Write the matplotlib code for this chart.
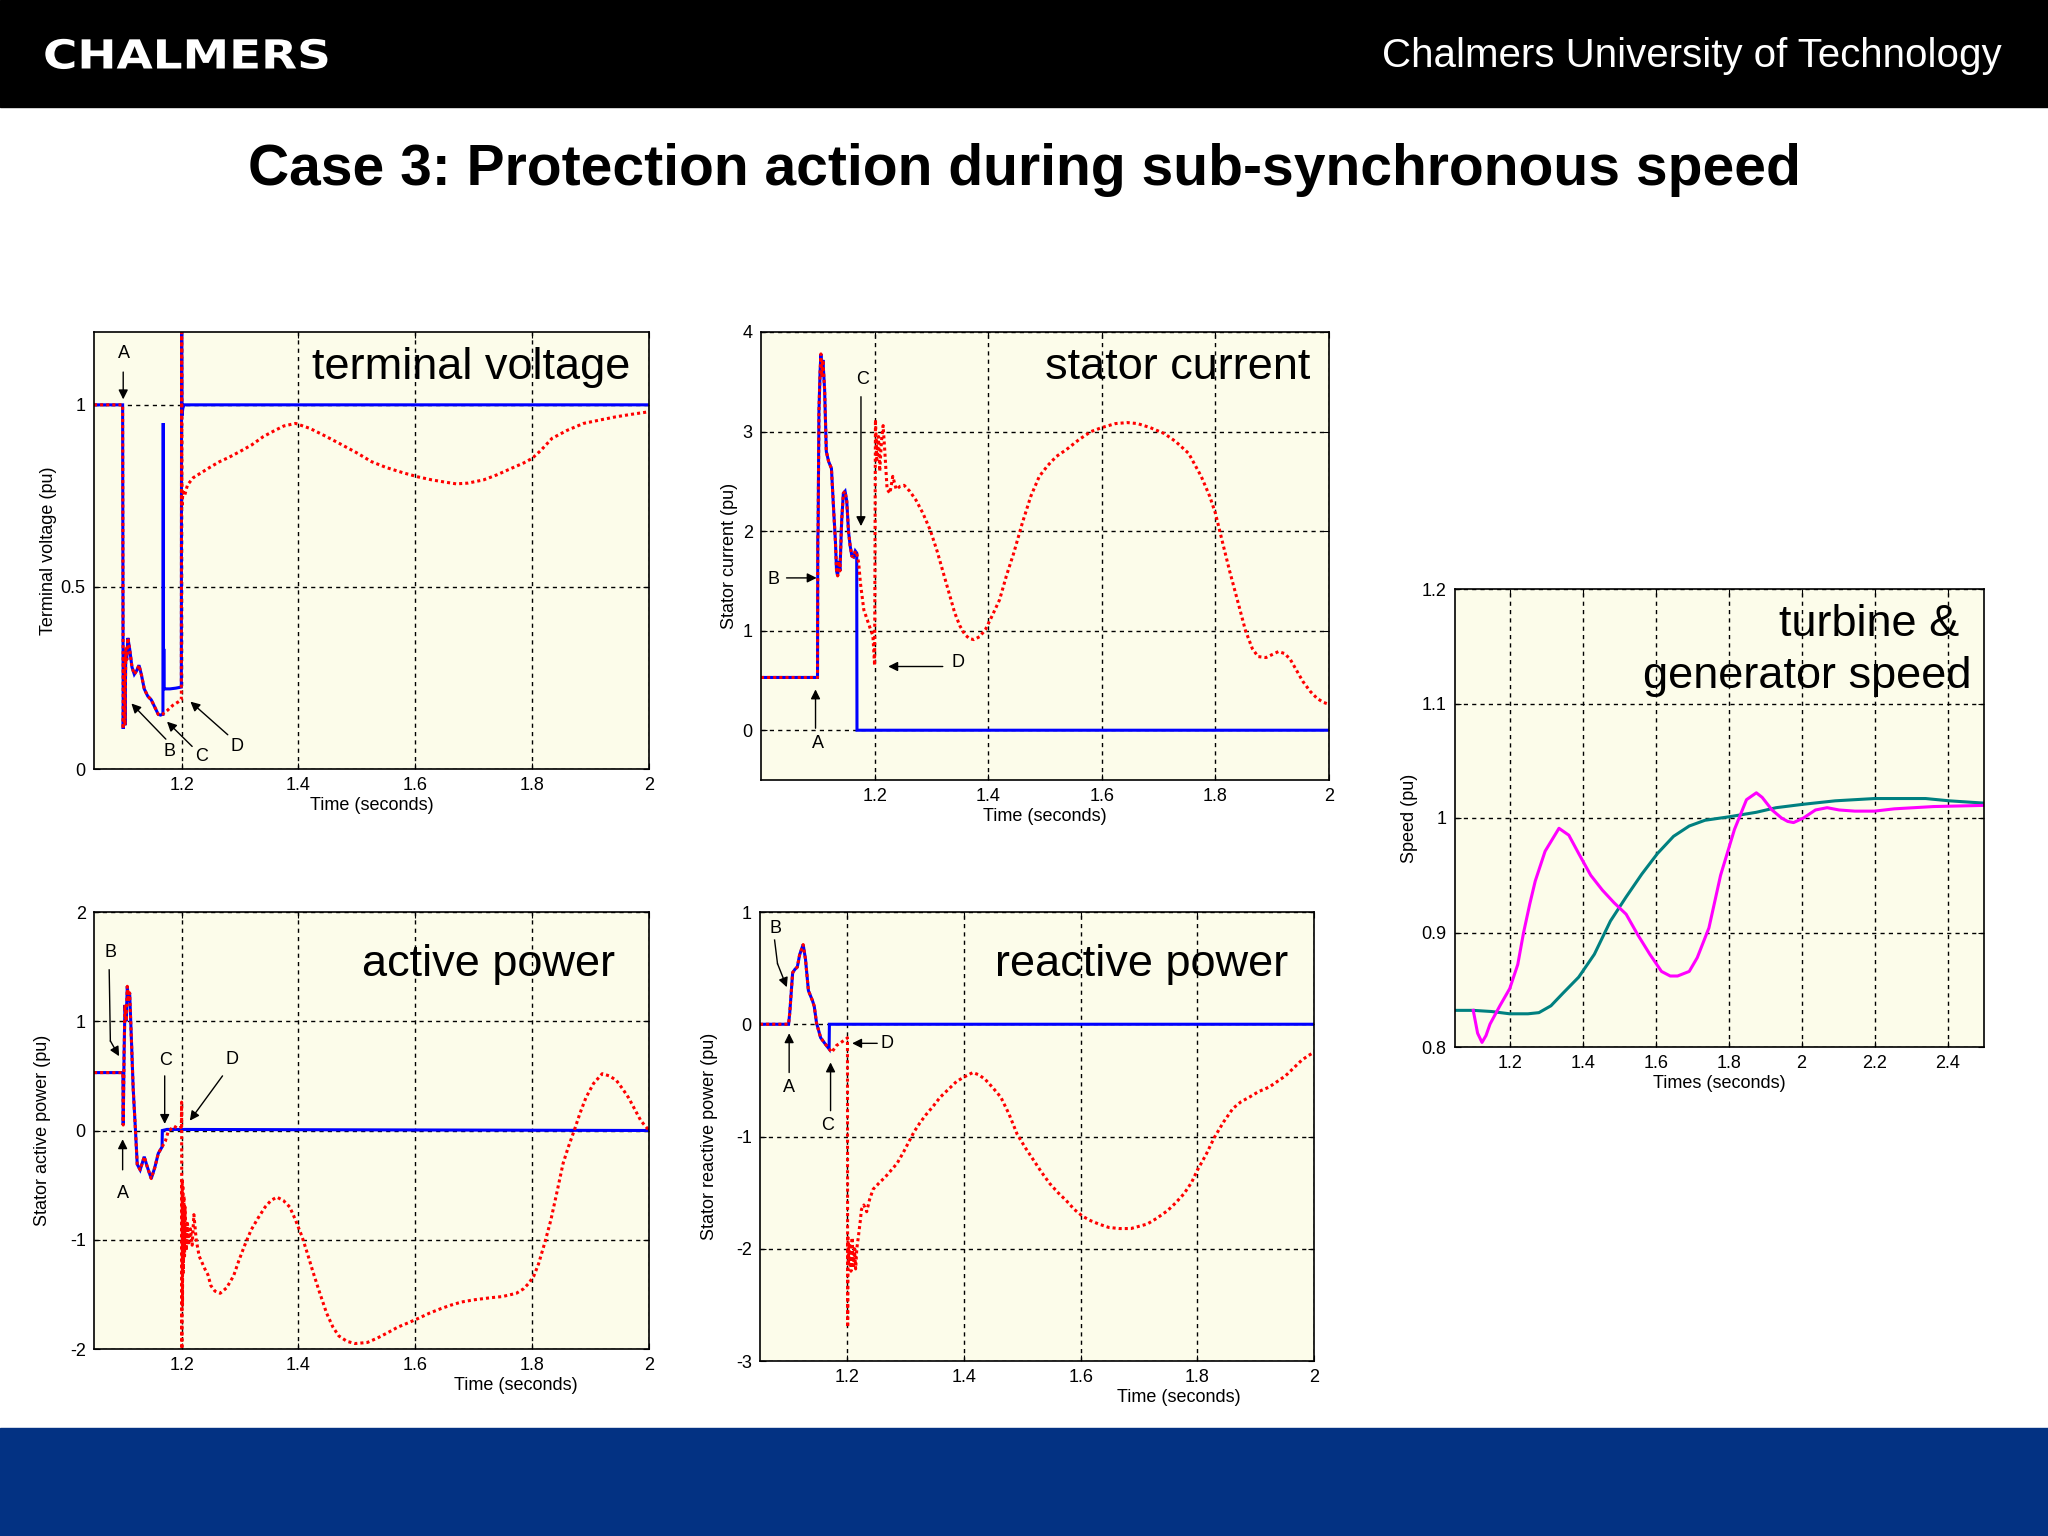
import numpy as np
import matplotlib
matplotlib.use("Agg")
import matplotlib.pyplot as plt
from matplotlib.patches import Rectangle, PathPatch
from matplotlib.textpath import TextPath
from matplotlib.font_manager import FontProperties
from matplotlib.transforms import Affine2D, IdentityTransform

# %%
# Data (pu values vs time in seconds)

# terminal voltage
tv_t_blue = [1.05, 1.099, 1.1, 1.1015, 1.103, 1.1045, 1.106, 1.108, 1.111, 1.115, 1.119, 1.123,
             1.127, 1.131, 1.136, 1.142, 1.148, 1.154, 1.16, 1.164, 1.167, 1.168, 1.1685, 1.169,
             1.1695, 1.170, 1.1705, 1.18, 1.19, 1.1995, 1.2, 1.2005, 1.202, 1.204, 1.21, 1.4,
             1.6, 1.8, 2.0]
tv_blue = [1.0, 1.0, 0.11, 0.31, 0.12, 0.33, 0.30, 0.36, 0.33, 0.28, 0.26, 0.27,
           0.285, 0.26, 0.22, 0.20, 0.19, 0.17, 0.15, 0.148, 0.15, 0.15, 0.95, 0.22,
           0.33, 0.22, 0.22, 0.22, 0.222, 0.225, 1.25, 0.97, 0.99, 1.0, 1.0, 1.0,
           1.0, 1.0, 1.0]
tv_t_red = [1.05, 1.099, 1.1, 1.1015, 1.103, 1.1045, 1.106, 1.108, 1.111, 1.115, 1.119, 1.123,
            1.127, 1.131, 1.136, 1.142, 1.148, 1.154, 1.16, 1.164, 1.167, 1.175, 1.185, 1.195,
            1.1995, 1.2, 1.2005, 1.201, 1.203, 1.205, 1.21, 1.22, 1.23, 1.25, 1.265, 1.28,
            1.30, 1.32, 1.34, 1.36, 1.375, 1.395, 1.42, 1.445, 1.47, 1.5, 1.525, 1.55,
            1.58, 1.605, 1.628, 1.65, 1.67, 1.69, 1.717, 1.74, 1.765, 1.785, 1.8, 1.815,
            1.834, 1.86, 1.888, 1.915, 1.943, 1.97, 2.0]
tv_red = [1.0, 1.0, 0.11, 0.31, 0.12, 0.33, 0.30, 0.36, 0.33, 0.28, 0.26, 0.27,
          0.285, 0.26, 0.22, 0.20, 0.19, 0.17, 0.15, 0.148, 0.15, 0.16, 0.175, 0.185,
          0.19, 1.25, 0.72, 0.74, 0.76, 0.75, 0.78, 0.80, 0.81, 0.83, 0.844, 0.855,
          0.872, 0.89, 0.913, 0.93, 0.942, 0.949, 0.935, 0.915, 0.894, 0.868, 0.844, 0.828,
          0.813, 0.802, 0.794, 0.788, 0.783, 0.785, 0.794, 0.808, 0.826, 0.84, 0.853, 0.875,
          0.908, 0.93, 0.949, 0.958, 0.967, 0.974, 0.981]

# stator current
sc_t_blue = [1.0, 1.0995, 1.1, 1.1005, 1.102, 1.104, 1.1055, 1.107, 1.109, 1.112, 1.115, 1.119,
             1.124, 1.128, 1.131, 1.133, 1.135, 1.137, 1.139, 1.142, 1.145, 1.148, 1.151, 1.154,
             1.157, 1.16, 1.163, 1.166, 1.1685, 1.169, 2.0]
sc_blue = [0.53, 0.53, 1.93, 2.0, 3.2, 3.6, 3.78, 3.55, 3.72, 3.42, 2.8, 2.7,
           2.63, 2.2, 1.9, 1.6, 1.55, 1.7, 1.6, 2.1, 2.38, 2.40, 2.3, 2.0,
           1.85, 1.75, 1.74, 1.8, 1.78, 0.0, 0.0]
sc_t_red = [1.0, 1.0995, 1.1, 1.1005, 1.102, 1.104, 1.1055, 1.107, 1.109, 1.112, 1.115, 1.119,
            1.124, 1.128, 1.131, 1.133, 1.135, 1.137, 1.139, 1.142, 1.145, 1.148, 1.151, 1.154,
            1.157, 1.16, 1.163, 1.166, 1.1685, 1.172, 1.175, 1.181, 1.187, 1.193, 1.197, 1.2,
            1.2015, 1.204, 1.207, 1.209, 1.212, 1.215, 1.218, 1.222, 1.227, 1.232, 1.238, 1.245,
            1.252, 1.262, 1.273, 1.285, 1.298, 1.31, 1.32, 1.331, 1.341, 1.35, 1.359, 1.367,
            1.375, 1.385, 1.395, 1.407, 1.42, 1.432, 1.445, 1.46, 1.475, 1.49, 1.505, 1.52,
            1.538, 1.56, 1.581, 1.6, 1.624, 1.645, 1.663, 1.685, 1.71, 1.73, 1.753, 1.775,
            1.79, 1.8, 1.812, 1.825, 1.84, 1.853, 1.865, 1.875, 1.889, 1.9, 1.911, 1.922,
            1.932, 1.943, 1.954, 1.967, 1.979, 1.99, 2.0]
sc_red = [0.53, 0.53, 1.93, 2.0, 3.2, 3.6, 3.78, 3.55, 3.72, 3.42, 2.8, 2.7,
          2.63, 2.2, 1.9, 1.6, 1.55, 1.7, 1.6, 2.1, 2.38, 2.40, 2.3, 2.0,
          1.85, 1.75, 1.74, 1.8, 1.78, 1.68, 1.48, 1.21, 1.11, 1.01, 0.95, 0.65,
          3.12, 2.72, 2.95, 2.6, 2.9, 3.06, 2.8, 2.42, 2.38, 2.55, 2.42, 2.45,
          2.46, 2.4, 2.31, 2.18, 2.01, 1.8, 1.6, 1.38, 1.18, 1.05, 0.96, 0.92,
          0.91, 0.94, 1.01, 1.15, 1.31, 1.55, 1.78, 2.08, 2.35, 2.55, 2.66, 2.75,
          2.82, 2.92, 3.0, 3.04, 3.08, 3.09, 3.08, 3.04, 2.98, 2.9, 2.78, 2.55,
          2.35, 2.18, 1.9, 1.6, 1.28, 1.0, 0.82, 0.74, 0.73, 0.76, 0.79, 0.77,
          0.71, 0.6, 0.49, 0.39, 0.32, 0.28, 0.26]

# stator active power
ap_t_blue = [1.05, 1.0995, 1.1, 1.1015, 1.103, 1.105, 1.107, 1.109, 1.111, 1.114, 1.117, 1.121,
             1.124, 1.129, 1.136, 1.141, 1.148, 1.154, 1.16, 1.1665, 1.167, 1.175, 2.0]
ap_blue = [0.53, 0.53, 0.05, 0.7, 1.15, 1.0, 1.32, 1.18, 1.26, 0.84, 0.39, 0.0,
           -0.31, -0.36, -0.24, -0.33, -0.44, -0.34, -0.21, -0.15, 0.0, 0.01, 0.0]
ap_t_red = [1.05, 1.0995, 1.1, 1.1015, 1.103, 1.105, 1.107, 1.109, 1.111, 1.114, 1.117, 1.121,
            1.124, 1.129, 1.136, 1.141, 1.148, 1.154, 1.16, 1.1665, 1.172, 1.177, 1.187, 1.193,
            1.1995, 1.2, 1.2004, 1.201, 1.2015, 1.202, 1.203, 1.204, 1.205, 1.206, 1.208, 1.21,
            1.212, 1.215, 1.218, 1.221, 1.225, 1.23, 1.235, 1.24, 1.245, 1.25, 1.257, 1.266,
            1.277, 1.289, 1.298, 1.308, 1.319, 1.331, 1.343, 1.353, 1.363, 1.374, 1.385, 1.395,
            1.406, 1.415, 1.424, 1.436, 1.448, 1.459, 1.469, 1.483, 1.497, 1.518, 1.535, 1.553,
            1.57, 1.588, 1.605, 1.625, 1.644, 1.66, 1.679, 1.7, 1.73, 1.749, 1.773, 1.785,
            1.794, 1.803, 1.811, 1.822, 1.832, 1.843, 1.853, 1.862, 1.872, 1.882, 1.892, 1.905,
            1.92, 1.932, 1.944, 1.955, 1.965, 1.976, 1.986, 2.0]
ap_red = [0.53, 0.53, 0.05, 0.7, 1.15, 1.0, 1.32, 1.18, 1.26, 0.84, 0.39, 0.0,
          -0.31, -0.36, -0.24, -0.33, -0.44, -0.34, -0.21, -0.15, -0.10, -0.01, 0.04, 0.02,
          0.03, 0.26, -2.0, -0.45, -1.6, -0.5, -1.3, -0.6, -1.15, -0.7, -1.1, -0.85,
          -1.05, -0.9, -1.05, -0.77, -1.0, -1.15, -1.21, -1.27, -1.32, -1.42, -1.47, -1.49,
          -1.44, -1.33, -1.19, -1.05, -0.91, -0.8, -0.70, -0.64, -0.61, -0.64, -0.70, -0.82,
          -0.97, -1.12, -1.28, -1.48, -1.67, -1.8, -1.88, -1.93, -1.95, -1.94, -1.9, -1.85,
          -1.8, -1.76, -1.72, -1.67, -1.63, -1.6, -1.57, -1.55, -1.53, -1.52, -1.49, -1.45,
          -1.40, -1.33, -1.22, -1.02, -0.82, -0.55, -0.30, -0.15, 0.0, 0.16, 0.30, 0.43,
          0.52, 0.5, 0.46, 0.38, 0.30, 0.19, 0.09, 0.0]

# stator reactive power
rp_t_blue = [1.05, 1.099, 1.101, 1.106, 1.11, 1.114, 1.118, 1.124, 1.128, 1.133, 1.14, 1.143,
             1.147, 1.154, 1.161, 1.1685, 1.169, 2.0]
rp_blue = [0.0, 0.0, 0.10, 0.46, 0.49, 0.51, 0.62, 0.71, 0.58, 0.30, 0.21, 0.16,
           0.01, -0.12, -0.17, -0.22, 0.0, 0.0]
rp_t_red = [1.05, 1.099, 1.101, 1.106, 1.11, 1.114, 1.118, 1.124, 1.128, 1.133, 1.14, 1.143,
            1.147, 1.154, 1.161, 1.1685, 1.173, 1.181, 1.198, 1.2, 1.2003, 1.2008, 1.202, 1.204,
            1.206, 1.208, 1.21, 1.212, 1.214, 1.216, 1.219, 1.222, 1.224, 1.228, 1.233, 1.238,
            1.244, 1.255, 1.265, 1.275, 1.285, 1.296, 1.305, 1.314, 1.324, 1.334, 1.347, 1.359,
            1.373, 1.387, 1.4, 1.415, 1.425, 1.436, 1.45, 1.463, 1.477, 1.491, 1.505, 1.519,
            1.533, 1.547, 1.561, 1.575, 1.589, 1.603, 1.617, 1.631, 1.648, 1.666, 1.686, 1.7,
            1.714, 1.73, 1.749, 1.763, 1.777, 1.79, 1.8, 1.815, 1.829, 1.845, 1.861, 1.875,
            1.889, 1.905, 1.923, 1.937, 1.951, 1.965, 1.979, 1.99, 2.0]
rp_red = [0.0, 0.0, 0.10, 0.46, 0.49, 0.51, 0.62, 0.71, 0.58, 0.30, 0.21, 0.16,
          0.01, -0.12, -0.17, -0.22, -0.25, -0.19, -0.13, -0.12, -2.7, -1.9, -2.15, -1.95,
          -2.2, -1.9, -2.15, -2.0, -2.18, -2.0, -1.88, -1.75, -1.65, -1.61, -1.67, -1.56,
          -1.47, -1.41, -1.36, -1.30, -1.24, -1.14, -1.05, -0.96, -0.88, -0.81, -0.73, -0.65,
          -0.58, -0.51, -0.47, -0.43, -0.45, -0.49, -0.57, -0.65, -0.8, -0.98, -1.1, -1.21,
          -1.32, -1.42, -1.5, -1.57, -1.65, -1.71, -1.75, -1.78, -1.81, -1.82, -1.82, -1.8,
          -1.78, -1.73, -1.66, -1.59, -1.51, -1.41, -1.30, -1.16, -1.01, -0.87, -0.75, -0.69,
          -0.65, -0.6, -0.56, -0.51, -0.46, -0.39, -0.32, -0.28, -0.25]

# turbine & generator speed
gen_t = [1.1, 1.112, 1.124, 1.135, 1.146, 1.173, 1.2, 1.222, 1.238, 1.255, 1.27, 1.297,
         1.335, 1.362, 1.389, 1.422, 1.454, 1.486, 1.519, 1.551, 1.584, 1.616, 1.64, 1.66,
         1.692, 1.714, 1.746, 1.778, 1.816, 1.849, 1.876, 1.892, 1.919, 1.945, 1.962, 1.978,
         2.005, 2.038, 2.07, 2.103, 2.146, 2.2, 2.254, 2.362, 2.5]
gen_speed = [0.832, 0.812, 0.804, 0.81, 0.82, 0.836, 0.851, 0.872, 0.90, 0.925, 0.945, 0.971,
             0.991, 0.985, 0.969, 0.95, 0.937, 0.926, 0.916, 0.898, 0.881, 0.866, 0.862, 0.862,
             0.866, 0.878, 0.904, 0.95, 0.99, 1.016, 1.022, 1.018, 1.007, 1.0, 0.997, 0.996,
             1.0, 1.007, 1.009, 1.007, 1.006, 1.006, 1.008, 1.01, 1.011]
tur_t = [1.05, 1.1, 1.15, 1.2, 1.25, 1.28, 1.313, 1.346, 1.389, 1.432, 1.476, 1.519,
         1.562, 1.605, 1.649, 1.692, 1.735, 1.8, 1.876, 1.93, 2.005, 2.092, 2.2, 2.34,
         2.405, 2.5]
tur_speed = [0.832, 0.832, 0.831, 0.829, 0.829, 0.83, 0.836, 0.847, 0.861, 0.881, 0.91, 0.931,
             0.951, 0.969, 0.984, 0.993, 0.998, 1.001, 1.005, 1.009, 1.012, 1.015, 1.017, 1.017,
             1.015, 1.013]

# %%
# Slide layout
fig = plt.figure(figsize=(20.48, 15.36), dpi=100)
W, H = 2048, 1536

def px_box(l, r, t, b):
    return [l / W, 1 - b / H, (r - l) / W, (b - t) / H]

fig.patches.append(Rectangle((0, 1 - 107 / H), 1, 107 / H, transform=fig.transFigure,
                             color="black", zorder=0))
fig.patches.append(Rectangle((0, 0), 1, (H - 1428) / H, transform=fig.transFigure,
                             color="#033283", zorder=0))

# wide logo text: bold glyphs stretched horizontally
logo = TextPath((0, 0), "CHALMERS", size=40,
                prop=FontProperties(family="DejaVu Sans", weight="bold"))
logo_tr = Affine2D().scale(1.17, 1.0).translate(43, H - 54 - 14.5)
fig.patches.append(PathPatch(logo, transform=logo_tr + IdentityTransform(),
                             facecolor="white", edgecolor="none", zorder=2))

fig.text(2002 / W, 1 - 56 / H, "Chalmers University of Technology", color="white",
         fontsize=29, family="Liberation Sans", ha="right", va="center")
fig.text(0.5, 1 - 170 / H, "Case 3: Protection action during sub-synchronous speed",
         fontsize=41, fontweight="bold", family="Liberation Sans", ha="center", va="center")

small = ["Liberation Sans Narrow", "Liberation Sans"]
bg = "#fcfcea"

def setup(ax, hpx, xlim, ylim, xt, xtl, yt, ytl, xlabel, ylabel, xlab_x, ylab_x):
    ax.set_facecolor(bg)
    ax.set_xlim(*xlim)
    ax.set_ylim(*ylim)
    ax.set_xticks(xt)
    ax.set_xticklabels(xtl, family=small, fontsize=13)
    ax.set_yticks(yt)
    ax.set_yticklabels(ytl, family=small, fontsize=13)
    ax.tick_params(direction="in", length=4, width=0.8, top=True, right=True, pad=6)
    ax.grid(True, color="black", linestyle=(0, (3, 3)), linewidth=1)
    ax.set_axisbelow(True)
    for s in ax.spines.values():
        s.set_linewidth(1.2)
    ax.set_xlabel(xlabel, family=small, fontsize=13)
    ax.set_ylabel(ylabel, family=small, fontsize=13)
    ax.xaxis.set_label_coords(xlab_x, -28.0 / hpx)
    ax.yaxis.set_label_coords(ylab_x, 0.5)

def big_label(ax, x, y, s):
    ax.text(x, y, s, transform=ax.transAxes, fontsize=32.5, family="Liberation Sans",
            ha="right", va="baseline")

def mark(ax, letter, txt_xy, tail, head):
    ax.text(txt_xy[0], txt_xy[1], letter, family=small, fontsize=13, ha="center", va="center")
    ax.annotate("", xy=head, xytext=tail,
                arrowprops=dict(arrowstyle="-|>", color="black", lw=1, mutation_scale=14,
                                shrinkA=0, shrinkB=0))

blue_kw = dict(color="#0000ff", lw=2.2, solid_joinstyle="miter")
red_kw = dict(color="#ff0000", lw=2.2, linestyle=(0, (1, 1)))

tx = [1.2, 1.4, 1.6, 1.8, 2.0]
txl = ["1.2", "1.4", "1.6", "1.8", "2"]

# terminal voltage
ax1 = fig.add_axes(px_box(94, 649, 332, 769))
ax1.plot(tv_t_blue, tv_blue, **blue_kw)
ax1.plot(tv_t_red, tv_red, **red_kw)
setup(ax1, 437, (1.05, 2.0), (0, 1.2), tx, txl, [0, 0.5, 1], ["0", "0.5", "1"],
      "Time (seconds)", "Terminal voltage (pu)", 0.5, -0.066)
big_label(ax1, 0.967, 0.892, "terminal voltage")
mark(ax1, "A", (1.101, 1.14), (1.1, 1.09), (1.1, 1.015))
mark(ax1, "B", (1.179, 0.048), (1.173, 0.082), (1.114, 0.18))
mark(ax1, "C", (1.234, 0.035), (1.218, 0.062), (1.175, 0.13))
mark(ax1, "D", (1.294, 0.062), (1.279, 0.094), (1.215, 0.185))

# stator current
ax2 = fig.add_axes(px_box(761, 1329, 332, 780))
ax2.plot(sc_t_blue, sc_blue, **blue_kw)
ax2.plot(sc_t_red, sc_red, **red_kw)
setup(ax2, 448, (1.0, 2.0), (-0.5, 4), tx, txl, [0, 1, 2, 3, 4], ["0", "1", "2", "3", "4"],
      "Time (seconds)", "Stator current (pu)", 0.5, -0.041)
big_label(ax2, 0.968, 0.895, "stator current")
mark(ax2, "C", (1.178, 3.52), (1.176, 3.35), (1.176, 2.05))
mark(ax2, "B", (1.022, 1.51), (1.045, 1.53), (1.098, 1.53))
mark(ax2, "A", (1.101, -0.13), (1.096, 0.02), (1.096, 0.41))
mark(ax2, "D", (1.346, 0.68), (1.32, 0.64), (1.224, 0.64))

# active power
ax3 = fig.add_axes(px_box(94, 649, 912, 1349))
ax3.plot(ap_t_blue, ap_blue, **blue_kw)
ax3.plot(ap_t_red, ap_red, **red_kw)
setup(ax3, 437, (1.05, 2.0), (-2, 2), tx, txl, [-2, -1, 0, 1, 2], ["-2", "-1", "0", "1", "2"],
      "Time (seconds)", "Stator active power (pu)", 0.76, -0.077)
big_label(ax3, 0.939, 0.854, "active power")
ax3.plot([1.076, 1.078], [1.47, 0.82], color="black", lw=1)
mark(ax3, "B", (1.078, 1.63), (1.078, 0.82), (1.093, 0.68))
mark(ax3, "A", (1.099, -0.58), (1.099, -0.36), (1.099, -0.08))
mark(ax3, "C", (1.172, 0.64), (1.171, 0.50), (1.171, 0.06))
mark(ax3, "D", (1.286, 0.65), (1.27, 0.50), (1.214, 0.09))

# reactive power
ax4 = fig.add_axes(px_box(760, 1314, 912, 1361))
ax4.plot(rp_t_blue, rp_blue, **blue_kw)
ax4.plot(rp_t_red, rp_red, **red_kw)
setup(ax4, 449, (1.05, 2.0), (-3, 1), tx, txl, [-3, -2, -1, 0, 1], ["-3", "-2", "-1", "0", "1"],
      "Time (seconds)", "Stator reactive power (pu)", 0.756, -0.075)
big_label(ax4, 0.953, 0.857, "reactive power")
ax4.plot([1.075, 1.08], [0.75, 0.54], color="black", lw=1)
mark(ax4, "B", (1.077, 0.85), (1.08, 0.54), (1.096, 0.33))
mark(ax4, "A", (1.1, -0.56), (1.1, -0.43), (1.1, -0.08))
mark(ax4, "C", (1.166, -0.90), (1.171, -0.77), (1.171, -0.34))
mark(ax4, "D", (1.268, -0.17), (1.251, -0.17), (1.208, -0.17))

# speed
ax5 = fig.add_axes(px_box(1455, 1984, 589, 1047))
ax5.plot(tur_t, tur_speed, color="#008080", lw=2.2)
ax5.plot(gen_t, gen_speed, color="#ff00ff", lw=2.2)
setup(ax5, 458, (1.05, 2.5), (0.8, 1.2), [1.2, 1.4, 1.6, 1.8, 2.0, 2.2, 2.4],
      ["1.2", "1.4", "1.6", "1.8", "2", "2.2", "2.4"],
      [0.8, 0.9, 1.0, 1.1, 1.2], ["0.8", "0.9", "1", "1.1", "1.2"],
      "Times (seconds)", "Speed (pu)", 0.5, -0.069)
big_label(ax5, 0.953, 0.897, "turbine &")
big_label(ax5, 0.977, 0.784, "generator speed")

fig.savefig("out.png", dpi=100)
